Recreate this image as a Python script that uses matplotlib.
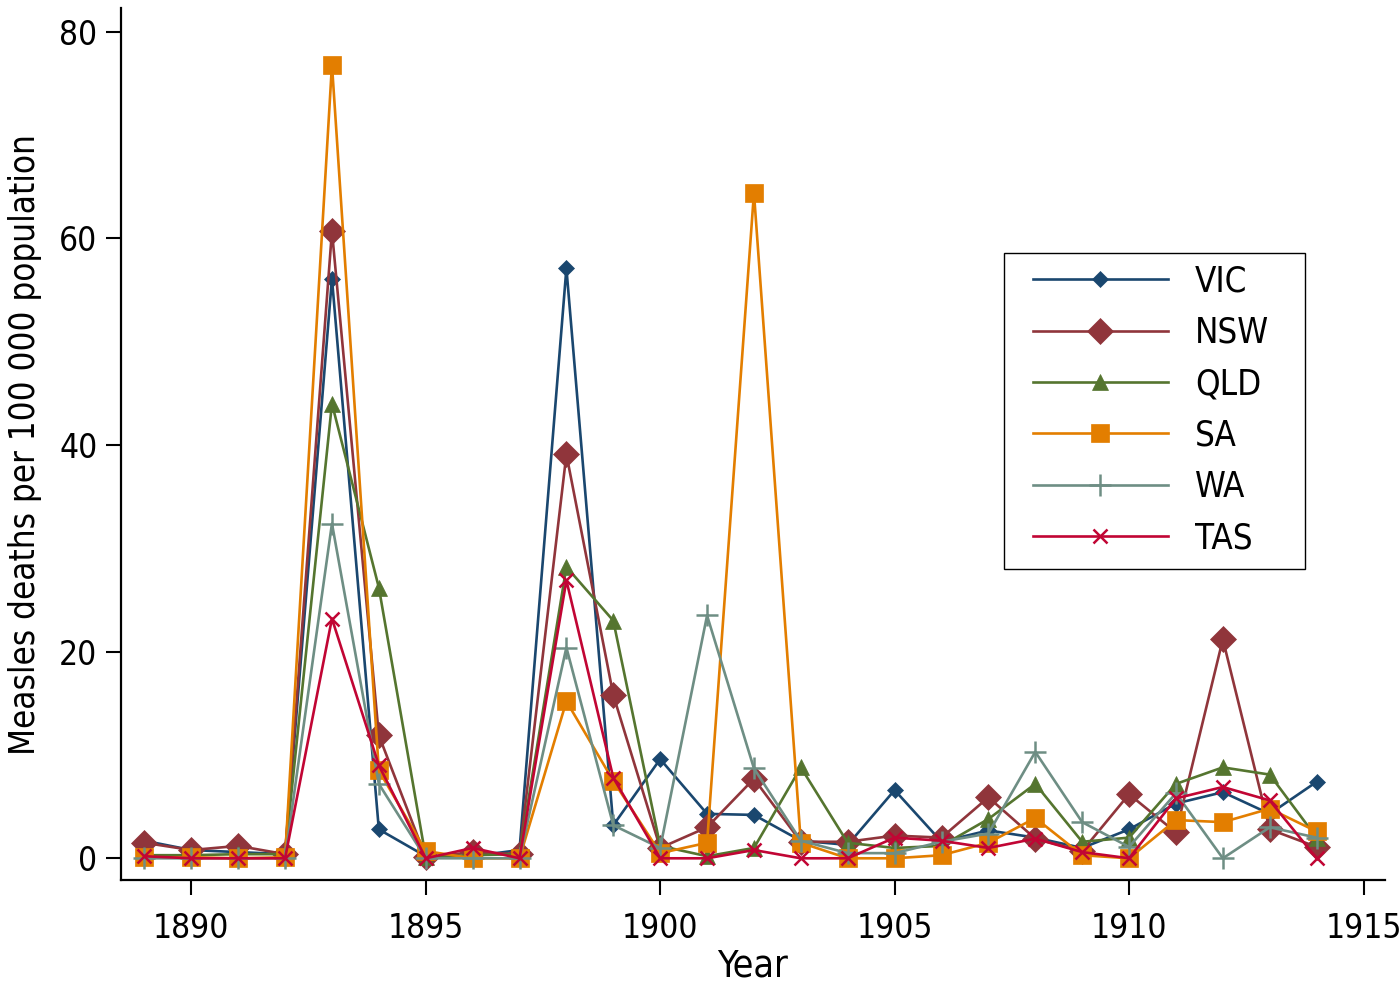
import matplotlib
matplotlib.use("Agg")
import matplotlib.pyplot as plt
from matplotlib.patches import Rectangle

# measles deaths per 100 000
years = list(range(1889, 1915))
vic = [1.7, 0.8, 0.6, 0.4, 56.1, 2.8, 0.2, 0.2, 0.8, 57.1, 3.2, 9.6, 4.3,
       4.2, 1.7, 1.3, 6.6, 1.6, 2.7, 2.0, 1.0, 2.8, 5.3, 6.4, 4.3, 7.4]
nsw = [1.5, 0.8, 1.2, 0.4, 60.7, 11.9, 0.1, 0.6, 0.4, 39.1, 15.8, 1.0, 3.0,
       7.7, 1.6, 1.6, 2.2, 2.0, 5.9, 1.9, 0.7, 6.2, 2.5, 21.2, 2.8, 1.1]
qld = [0.3, 0.3, 0.4, 0.4, 44.0, 26.2, 0.1, 0.3, 0.4, 28.2, 23.0, 1.2, 0.2,
       1.0, 8.8, 1.5, 1.0, 1.2, 3.8, 7.2, 1.6, 2.0, 7.2, 8.8, 8.1, 2.0]
sa = [0.1, 0.1, 0.0, 0.1, 76.8, 8.5, 0.7, 0.0, 0.0, 15.2, 7.5, 0.5, 1.5,
      64.4, 1.5, 0.0, 0.0, 0.3, 1.5, 3.9, 0.3, 0.0, 3.7, 3.5, 4.8, 2.6]
wa = [0.0, 0.0, 0.0, 0.0, 32.4, 7.2, 0.0, 0.0, 0.0, 20.4, 3.2, 1.0, 23.5,
      8.7, 1.7, 0.5, 0.5, 1.6, 2.4, 10.3, 3.5, 1.1, 6.3, 0.0, 3.0, 2.0]
tas = [0.2, 0.0, 0.0, 0.0, 23.2, 9.0, 0.0, 1.0, 0.0, 26.9, 7.8, 0.0, 0.0,
       0.8, 0.0, 0.0, 2.0, 1.7, 1.0, 1.9, 0.6, 0.0, 5.8, 6.9, 5.6, 0.0]

states = ["VIC", "NSW", "QLD", "SA", "WA", "TAS"]
series = [vic, nsw, qld, sa, wa, tas]

x_ticks = [1890, 1895, 1900, 1905, 1910, 1915]
y_ticks = [0, 20, 40, 60, 80]

# stata s2color look
colors = ["#1a476f", "#90353b", "#55752f", "#e37e00", "#6e8e84", "#c10534"]
markers = ["D", "D", "^", "s", "+", "x"]
msizes = [8, 13, 11, 13, 16, 10]

plt.rcParams["font.family"] = ["DejaVu Sans"]
plt.rcParams["font.stretch"] = "condensed"

fig = plt.figure(figsize=(14, 9.88), dpi=100)
ax = fig.add_axes([0.0864, 0.109, 0.9026, 0.883])

for name, vals, c, m, ms in zip(states, series, colors, markers, msizes):
    ax.plot(years, vals, color=c, marker=m, markersize=ms, linewidth=1.9,
            markeredgewidth=1.8 if m in "+x" else 0.5, label=name)

ax.set_xlim(1888.5, 1915.45)
ax.set_ylim(-2.13, 82.3)
ax.set_xticks(x_ticks)
ax.set_yticks(y_ticks)
ax.tick_params(labelsize=24, length=11, width=1.5, color="black")
ax.tick_params(axis="x", pad=12)
ax.tick_params(axis="y", pad=6)
for s in ["top", "right"]:
    ax.spines[s].set_visible(False)
for s in ["left", "bottom"]:
    ax.spines[s].set_linewidth(1.6)

ax.set_xlabel("Year", fontsize=27, labelpad=2)
ax.set_ylabel("Measles deaths per 100 000 population", fontsize=25, labelpad=12)

# legend content without frame, box drawn separately (stata-style padding)
leg = ax.legend(loc="upper left", bbox_to_anchor=(0.7215, 0.706), fontsize=25,
                frameon=False, handlelength=3.9, handletextpad=0.78,
                labelspacing=0.5, borderpad=0, borderaxespad=0)
ax.add_patch(Rectangle((0.699, 0.357), 0.238, 0.362, transform=ax.transAxes,
                       fill=False, edgecolor="black", linewidth=1.0,
                       zorder=5, clip_on=False))

fig.savefig("out.png", dpi=100)
